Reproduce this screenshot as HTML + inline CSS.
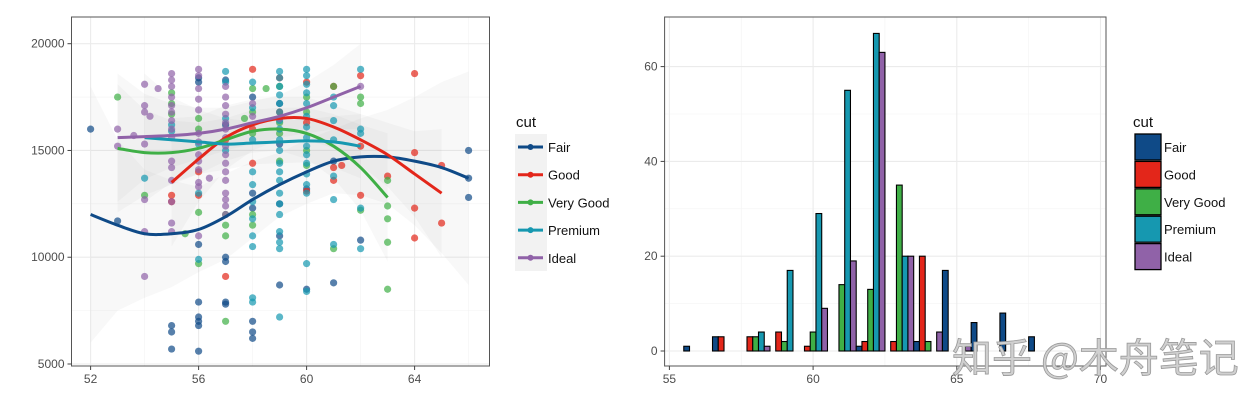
<!DOCTYPE html>
<html><head><meta charset="utf-8">
<style>
html,body{margin:0;padding:0;background:#fff;}
svg{display:block;font-family:"Liberation Sans","Noto Sans CJK SC",sans-serif;}
</style></head>
<body>
<svg id="chart" width="1252" height="407" viewBox="0 0 1252 407" xmlns="http://www.w3.org/2000/svg">
<g id="left"></g>
<g id="right"></g>
<text x="952" y="372" font-size="40" fill="#d0d0d0" stroke="#9a9a9a" stroke-width="0.8" font-family="'Noto Sans CJK SC',sans-serif">知乎 @木舟笔记</text>
</svg>
<script>
// ---------- shared data ----------
const cuts = ["Fair","Good","Very Good","Premium","Ideal"];
const colors = ["#0f4a87","#e3261a","#3faf46","#1698b0","#9062a8"];

// ---------- scatter data (x = table, y = price in thousands) ----------
const fairPts = [[52,16],[53,11.7],[55,6.8],[55,6.5],[55,5.7],[56,7.9],[56,7.2],[56,7.0],[56,6.8],[56,5.6],[56,10.6],[56,18.2],[56,18.4],[57,10],[57,9.8],[57,7.9],[57,7.8],[57,18.3],[57,16.2],[58,7.0],[58,6.5],[58,6.2],[58,17.5],[58,13],[58,12.3],[59,8.7],[59,12.5],[59,11],[59,17.2],[60,8.5],[60,13.2],[61,8.8],[61,14.5],[62,10.8],[66,15],[66,13.7],[66,12.8],[59,15.3]];
const goodPts = [[55,12.9],[55,12.6],[57,9.1],[58,18.8],[58,16],[58,14.4],[59,16.8],[59,18.4],[60,18.2],[60,16.3],[60,13.1],[61,18],[61,14.2],[61.3,14.3],[61,13.6],[62,18.5],[62,15.2],[62,12.9],[63,13.8],[64,18.6],[64,14.9],[64,12.3],[64,10.9],[65,14.3],[65,11.6],[57,15.5],[56,14],[56,12.9]];
const vgPts = [[53,17.5],[54,12.9],[55,17.7],[55.5,11.1],[56,16.5],[56,16],[56,12.1],[56,9.7],[57,12],[57,11.5],[57,11],[57,7],[57.7,16.5],[58,17.9],[58,11.5],[58,12],[58,15.8],[58,16.8],[58.5,17.9],[59,18],[59,14.5],[59,15.8],[59,16.3],[60,15],[60,14.3],[60,17.5],[60,16.8],[61,18],[61,10.4],[62,17.2],[62,17.5],[62,12.2],[63,13.6],[63,12.4],[63,11.8],[63,10.7],[63,8.5],[55,16.7],[55,17.2]];
const premPts = [[54,13.7],[55,16.2],[55,15.9],[56,13],[56,9.9],[56,15.3],[57,18.7],[57,18.2],[57,16.5],[57,15],[58,11],[58,10.5],[58,8.1],[58,7.9],[58,14],[58,15.5],[58,17],[58,18.2],[58,13.4],[58,12.6],[58,11.8],[59,18.7],[59,18.4],[59,18],[59,17.6],[59,17.2],[59,16.8],[59,16.4],[59,16],[59,15.5],[59,15],[59,14.4],[59,14],[59,13.6],[59,13],[59,12.5],[59,12],[59,11.2],[59,10.7],[59,10.4],[59,7.2],[60,18.8],[60,18.5],[60,18.1],[60,17.7],[60,17.2],[60,16.6],[60,16.1],[60,15.6],[60,15.2],[60,14.8],[60,14.4],[60,13.9],[60,13.4],[60,13],[60,9.7],[60,8.4],[61,17.5],[61,17.1],[61,16.4],[61,15.5],[61,13.8],[61,12.7],[61,10.6],[62,18.8],[62,16],[62,15.8],[62,12.3],[62,10.4]];
const idealPts = [[53,16],[53,15.2],[54,18.1],[54,17.1],[54,16.8],[54,15.3],[54,12.7],[54,11.2],[54,9.1],[54.5,17.9],[54.2,16.6],[53.6,15.7],[55,18.6],[55,18.3],[55,18],[55,17.5],[55,17.1],[55,16.8],[55,16.4],[55,16],[55,15.6],[55,14.5],[55,14.2],[55,13.6],[55,12.6],[55,11.6],[55,11.2],[56,18.8],[56,18.5],[56,17.9],[56,17.4],[56,16.9],[56,15.8],[56,15.4],[56,14.8],[56,14.5],[56,14.1],[56,13.5],[56,13.3],[56,11],[56.4,13.7],[57,18],[57,17.5],[57,17.1],[57,16.7],[57,16.3],[57,16],[57,15.6],[57,15.2],[57,14.8],[57,14.4],[57,14],[57,13.6],[57,13],[57,12.7],[57,12.4],[57,12],[58,17.2],[58,16.6],[62,18],[59,16.5]];
const allPts = [fairPts,goodPts,vgPts,premPts,idealPts];

// smooth curves (x, price in thousands)
const fairCurve = [[52,12],[53,11.5],[54,11.1],[55,11.1],[56,11.3],[57,11.9],[58,12.7],[59,13.4],[60,14],[61,14.5],[62,14.7],[63,14.7],[64,14.5],[65,14.2],[66,13.7]];
const goodCurve = [[55,13.5],[56,14.6],[57,15.6],[58,16.2],[59,16.5],[60,16.5],[61,16.1],[62,15.5],[63,14.8],[64,13.9],[65,13]];
const vgCurve = [[53,15.1],[54,14.9],[55,14.9],[56,15.1],[57,15.5],[58,15.9],[59,16],[60,15.8],[61,15.2],[62,14.2],[63,12.8]];
const premCurve = [[54,15.6],[55,15.5],[56,15.4],[57,15.3],[58,15.35],[59,15.4],[60,15.45],[61,15.4],[62,15.2]];
const idealCurve = [[53,15.6],[54,15.65],[55,15.7],[56,15.8],[57,16],[58,16.3],[59,16.6],[60,17],[61,17.5],[62,18]];
const allCurves = [fairCurve,goodCurve,vgCurve,premCurve,idealCurve];
// ribbon half-widths (thousands) per curve, one per curve point
const fairSe = [6,4,3,2.5,2,2,1.8,1.5,1.5,1.5,1.8,2.2,3,4,5];
const otherSe = [3,2,1.5,1.2,1,1,1,1.2,1.5,2,3];

const xTicksL = [52,56,60,64];
const xMinorL = [54,58,62,66];
const yTicksL = [5000,10000,15000,20000];
const yMinorL = [7500,12500,17500];

// ---------- histogram data ----------
const binStarts = [55.5,56.5,57.5,58.5,59.5,60.5,61.5,62.5,63.5,64.5,65.5,66.5,67.5,68.5];
const fairCounts    = [1,3,0,0,0,0,1,0,2,17,6,8,3,0];
const goodCounts    = [0,3,3,4,1,0,2,2,20,0,0,0,0,0];
const vgCounts      = [0,0,3,2,4,14,13,35,2,0,0,0,0,0];
const premiumCounts = [0,0,4,17,29,55,67,20,0,0,0,0,0,0];
const idealCounts   = [0,0,1,0,9,19,63,20,4,1,0,0,0,0];
const allCounts = [fairCounts,goodCounts,vgCounts,premiumCounts,idealCounts];
const xTicksR = [55,60,65,70];
const xMinorR = [57.5,62.5,67.5];
const yTicksR = [0,20,40,60];
const yMinorR = [10,30,50];

const NS="http://www.w3.org/2000/svg";
function mk(parent,tag,attrs){const e=document.createElementNS(NS,tag);for(const k in attrs)e.setAttribute(k,attrs[k]);parent.appendChild(e);return e;}

// ---------- LEFT ----------
(function(){
const g=document.getElementById('left');
const L=71.5,R=489.5,T=17,B=366;
const xs=v=>90.6+(v-52)*27.0;
const ys=v=>364-(v-5000)*(320.3/15000);
const yk=v=>ys(v*1000);
let r=mk(g,'rect',{x:L,y:T,width:R-L,height:B-T,fill:'#fff'});


xMinorL.forEach(v=>{const l=mk(g,'line',{x1:xs(v),x2:xs(v),y1:T,y2:B,stroke:'#f3f3f3','stroke-width':0.6});});
yMinorL.forEach(v=>{const l=mk(g,'line',{x1:L,x2:R,y1:ys(v),y2:ys(v),stroke:'#f3f3f3','stroke-width':0.6});});
xTicksL.forEach(v=>{const l=mk(g,'line',{x1:xs(v),x2:xs(v),y1:T,y2:B,stroke:'#ebebeb','stroke-width':1.1});});
yTicksL.forEach(v=>{const l=mk(g,'line',{x1:L,x2:R,y1:ys(v),y2:ys(v),stroke:'#ebebeb','stroke-width':1.1});});
// ribbons
allCurves.forEach((c,i)=>{
  const se = i===0?fairSe:otherSe;
  const up=c.map((p,j)=>xs(p[0])+','+yk(p[1]+se[j]));
  const dn=c.map((p,j)=>xs(p[0])+','+yk(p[1]-se[j])).reverse();
  const p=mk(g,'polygon',{points:up.concat(dn).join(' '),fill:'#999',opacity:0.07});
  
  
});
// points
const clip=mk(g,'clipPath',{id:'clipL'});mk(clip,'rect',{x:L,y:T,width:R-L,height:B-T});
allPts.forEach((pts,i)=>{
  pts.forEach(p=>{
    const c=mk(g,'circle',{cx:xs(p[0]),cy:yk(p[1]),r:3.6,fill:colors[i],opacity:0.7});
    
    
  });
});
// curves
allCurves.forEach((c,i)=>{
  let d='M'+xs(c[0][0])+','+yk(c[0][1]);
  for(let j=1;j<c.length;j++){
    const p0=c[Math.max(j-2,0)],p1=c[j-1],p2=c[j],p3=c[Math.min(j+1,c.length-1)];
    const c1x=xs(p1[0])+(xs(p2[0])-xs(p0[0]))/6,c1y=yk(p1[1])+(yk(p2[1])-yk(p0[1]))/6;
    const c2x=xs(p2[0])-(xs(p3[0])-xs(p1[0]))/6,c2y=yk(p2[1])-(yk(p3[1])-yk(p1[1]))/6;
    d+=' C'+c1x+','+c1y+' '+c2x+','+c2y+' '+xs(p2[0])+','+yk(p2[1]);
  }
  const p=mk(g,'path',{d:d,fill:'none',stroke:colors[i],'stroke-width':3});
  
  
});
r=mk(g,'rect',{x:L,y:T,width:R-L,height:B-T,fill:'none',stroke:'#555','stroke-width':1});


xTicksL.forEach(v=>{
  mk(g,'line',{x1:xs(v),x2:xs(v),y1:B,y2:B+4,stroke:'#444'});
  const t=mk(g,'text',{x:xs(v),y:B+17,'text-anchor':'middle','font-size':12,fill:'#4d4d4d'});t.textContent=v;
  
});
yTicksL.forEach(v=>{
  mk(g,'line',{x1:L-4,x2:L,y1:ys(v),y2:ys(v),stroke:'#444'});
  const t=mk(g,'text',{x:L-7,y:ys(v)+4,'text-anchor':'end','font-size':12,fill:'#4d4d4d'});t.textContent=v;
  
});
// legend
let t=mk(g,'text',{x:516,y:127,'font-size':15,fill:'#111'});t.textContent='cut';

r=mk(g,'rect',{x:515,y:134,width:32,height:137,fill:'#f2f2f2'});

cuts.forEach((c,i)=>{
  const y=147+i*27.7;
  const e=mk(g,'g',{});
  
  
  mk(e,'line',{x1:518,x2:543,y1:y,y2:y,stroke:colors[i],'stroke-width':3});
  mk(e,'circle',{cx:530.5,cy:y,r:3,fill:colors[i]});
  const tt=mk(e,'text',{x:548,y:y+5,'font-size':13,fill:'#111'});tt.textContent=c;
});
})();

// ---------- RIGHT ----------
(function(){
const g=document.getElementById('right');
const L=664.6,R=1106,T=17,B=366;
const xs=v=>669.4+(v-55)*28.74;
const ys=v=>351-v*4.74;
let r=mk(g,'rect',{x:L,y:T,width:R-L,height:B-T,fill:'#fff'});

xMinorR.forEach(v=>{const l=mk(g,'line',{x1:xs(v),x2:xs(v),y1:T,y2:B,stroke:'#f3f3f3','stroke-width':0.6});});
yMinorR.forEach(v=>{const l=mk(g,'line',{x1:L,x2:R,y1:ys(v),y2:ys(v),stroke:'#f3f3f3','stroke-width':0.6});});
xTicksR.forEach(v=>{const l=mk(g,'line',{x1:xs(v),x2:xs(v),y1:T,y2:B,stroke:'#ebebeb','stroke-width':1.1});});
yTicksR.forEach(v=>{const l=mk(g,'line',{x1:L,x2:R,y1:ys(v),y2:ys(v),stroke:'#ebebeb','stroke-width':1.1});});
const bw=0.2;
binStarts.forEach((b,k)=>{
  allCounts.forEach((arr,i)=>{
    const x0=xs(b+i*bw),x1=xs(b+(i+1)*bw),h=arr[k];
    const rr=mk(g,'rect',{x:x0,y:ys(h),width:x1-x0,height:ys(0)-ys(h),fill:colors[i],stroke:'#000','stroke-width':1.1});
    
    
  });
});
r=mk(g,'rect',{x:L,y:T,width:R-L,height:B-T,fill:'none',stroke:'#555','stroke-width':1});

xTicksR.forEach(v=>{
  mk(g,'line',{x1:xs(v),x2:xs(v),y1:B,y2:B+4,stroke:'#444'});
  const t=mk(g,'text',{x:xs(v),y:B+17,'text-anchor':'middle','font-size':12,fill:'#4d4d4d'});t.textContent=v;
  
});
yTicksR.forEach(v=>{
  mk(g,'line',{x1:L-4,x2:L,y1:ys(v),y2:ys(v),stroke:'#444'});
  const t=mk(g,'text',{x:L-7,y:ys(v)+4,'text-anchor':'end','font-size':12,fill:'#4d4d4d'});t.textContent=v;
  
});
let t=mk(g,'text',{x:1133,y:127,'font-size':15,fill:'#111'});t.textContent='cut';

cuts.forEach((c,i)=>{
  const y=134+i*27.4;
  const e=mk(g,'g',{});
  
  
  mk(e,'rect',{x:1135,y:y,width:26,height:26,fill:colors[i],stroke:'#000','stroke-width':1.3});
  const tt=mk(e,'text',{x:1164,y:y+18,'font-size':13,fill:'#111'});tt.textContent=c;
});
})();
</script>
</body></html>
